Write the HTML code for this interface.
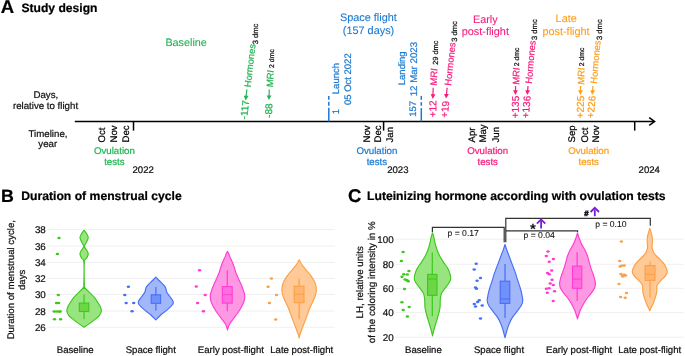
<!DOCTYPE html>
<html><head><meta charset="utf-8"><style>
html,body{margin:0;padding:0;background:#fff;width:685px;height:356px;overflow:hidden}
svg{display:block;will-change:transform}
text{font-family:"Liberation Sans", sans-serif;text-rendering:geometricPrecision}
</style></head><body>
<svg width="685" height="356" viewBox="0 0 685 356">
<rect width="685" height="356" fill="#fff"/>
<text x="0.8" y="13.4" font-size="18.5" fill="#000" text-anchor="start" font-weight="bold" font-style="normal" stroke="#000" stroke-width="0.22" >A</text>
<text x="21.5" y="11.8" font-size="12.1" fill="#000" text-anchor="start" font-weight="bold" font-style="normal" stroke="#000" stroke-width="0.22" >Study design</text>
<text x="186.1" y="45.8" font-size="10.8" fill="#22b552" text-anchor="middle" font-weight="normal" font-style="normal" stroke="#22b552" stroke-width="0.1" >Baseline</text>
<text x="368.4" y="21.4" font-size="10.9" fill="#1c79d0" text-anchor="middle" font-weight="normal" font-style="normal" stroke="#1c79d0" stroke-width="0.1" >Space flight</text>
<text x="368.5" y="34.2" font-size="10.9" fill="#1c79d0" text-anchor="middle" font-weight="normal" font-style="normal" stroke="#1c79d0" stroke-width="0.1" >(157 days)</text>
<text x="485.3" y="22.8" font-size="10.9" fill="#f81b7c" text-anchor="middle" font-weight="normal" font-style="normal" stroke="#f81b7c" stroke-width="0.1" >Early</text>
<text x="485.3" y="35.2" font-size="10.9" fill="#f81b7c" text-anchor="middle" font-weight="normal" font-style="normal" stroke="#f81b7c" stroke-width="0.1" >post-flight</text>
<text x="566.2" y="22.4" font-size="10.9" fill="#fd9e1c" text-anchor="middle" font-weight="normal" font-style="normal" stroke="#fd9e1c" stroke-width="0.1" >Late</text>
<text x="566.0" y="35.0" font-size="10.9" fill="#fd9e1c" text-anchor="middle" font-weight="normal" font-style="normal" stroke="#fd9e1c" stroke-width="0.1" >post-flight</text>
<text x="45.8" y="98.0" font-size="9.7" fill="#111" text-anchor="middle" font-weight="normal" font-style="normal" stroke="#111" stroke-width="0.22" >Days,</text>
<text x="45.5" y="109.2" font-size="9.7" fill="#111" text-anchor="middle" font-weight="normal" font-style="normal" stroke="#111" stroke-width="0.22" >relative to flight</text>
<text x="48.0" y="137.3" font-size="9.7" fill="#111" text-anchor="middle" font-weight="normal" font-style="normal" stroke="#111" stroke-width="0.22" >Timeline,</text>
<text x="47.8" y="147.4" font-size="9.7" fill="#111" text-anchor="middle" font-weight="normal" font-style="normal" stroke="#111" stroke-width="0.22" >year</text>
<line x1="74.8" y1="121.5" x2="654" y2="121.5" stroke="#000" stroke-width="1.6"/>
<polyline points="649.2,117.6 654.6,121.5 649.2,125.4" fill="none" stroke="#000" stroke-width="1.5"/>
<line x1="133.5" y1="121.5" x2="133.5" y2="130.6" stroke="#000" stroke-width="1.5"/>
<line x1="383.6" y1="121.5" x2="383.6" y2="130.6" stroke="#000" stroke-width="1.5"/>
<line x1="634.7" y1="121.5" x2="634.7" y2="130.6" stroke="#000" stroke-width="1.5"/>
<text transform="translate(105.4,142.5) rotate(-90)" font-size="9.6" fill="#000" text-anchor="start" font-weight="normal" font-style="normal" stroke="#000" stroke-width="0.22">Oct</text>
<text transform="translate(116.8,142.5) rotate(-90)" font-size="9.6" fill="#000" text-anchor="start" font-weight="normal" font-style="normal" stroke="#000" stroke-width="0.22">Nov</text>
<text transform="translate(128.9,142.5) rotate(-90)" font-size="9.6" fill="#000" text-anchor="start" font-weight="normal" font-style="normal" stroke="#000" stroke-width="0.22">Dec</text>
<text transform="translate(369.5,142.5) rotate(-90)" font-size="9.6" fill="#000" text-anchor="start" font-weight="normal" font-style="normal" stroke="#000" stroke-width="0.22">Nov</text>
<text transform="translate(381.3,142.5) rotate(-90)" font-size="9.6" fill="#000" text-anchor="start" font-weight="normal" font-style="normal" stroke="#000" stroke-width="0.22">Dec</text>
<text transform="translate(393.0,142.5) rotate(-90)" font-size="9.6" fill="#000" text-anchor="start" font-weight="normal" font-style="normal" stroke="#000" stroke-width="0.22">Jan</text>
<text transform="translate(474.5,142.5) rotate(-90)" font-size="9.6" fill="#000" text-anchor="start" font-weight="normal" font-style="normal" stroke="#000" stroke-width="0.22">Apr</text>
<text transform="translate(486.3,142.5) rotate(-90)" font-size="9.6" fill="#000" text-anchor="start" font-weight="normal" font-style="normal" stroke="#000" stroke-width="0.22">May</text>
<text transform="translate(498.7,142.5) rotate(-90)" font-size="9.6" fill="#000" text-anchor="start" font-weight="normal" font-style="normal" stroke="#000" stroke-width="0.22">Jun</text>
<text transform="translate(574.8,142.5) rotate(-90)" font-size="9.6" fill="#000" text-anchor="start" font-weight="normal" font-style="normal" stroke="#000" stroke-width="0.22">Sep</text>
<text transform="translate(587.9,142.5) rotate(-90)" font-size="9.6" fill="#000" text-anchor="start" font-weight="normal" font-style="normal" stroke="#000" stroke-width="0.22">Oct</text>
<text transform="translate(599.3,142.5) rotate(-90)" font-size="9.6" fill="#000" text-anchor="start" font-weight="normal" font-style="normal" stroke="#000" stroke-width="0.22">Nov</text>
<text x="114.4" y="153.7" font-size="9.7" fill="#22b552" text-anchor="middle" font-weight="normal" font-style="normal" stroke="#22b552" stroke-width="0.22" >Ovulation</text>
<text x="114.4" y="165.0" font-size="9.7" fill="#22b552" text-anchor="middle" font-weight="normal" font-style="normal" stroke="#22b552" stroke-width="0.22" >tests</text>
<text x="376.9" y="153.7" font-size="9.7" fill="#1c79d0" text-anchor="middle" font-weight="normal" font-style="normal" stroke="#1c79d0" stroke-width="0.22" >Ovulation</text>
<text x="376.9" y="165.0" font-size="9.7" fill="#1c79d0" text-anchor="middle" font-weight="normal" font-style="normal" stroke="#1c79d0" stroke-width="0.22" >tests</text>
<text x="487.7" y="153.7" font-size="9.7" fill="#f81b7c" text-anchor="middle" font-weight="normal" font-style="normal" stroke="#f81b7c" stroke-width="0.22" >Ovulation</text>
<text x="487.7" y="165.0" font-size="9.7" fill="#f81b7c" text-anchor="middle" font-weight="normal" font-style="normal" stroke="#f81b7c" stroke-width="0.22" >tests</text>
<text x="588.7" y="153.7" font-size="9.7" fill="#fd9e1c" text-anchor="middle" font-weight="normal" font-style="normal" stroke="#fd9e1c" stroke-width="0.22" >Ovulation</text>
<text x="588.7" y="165.0" font-size="9.7" fill="#fd9e1c" text-anchor="middle" font-weight="normal" font-style="normal" stroke="#fd9e1c" stroke-width="0.22" >tests</text>
<text x="132.5" y="172.8" font-size="9.6" fill="#111" text-anchor="start" font-weight="normal" font-style="normal" stroke="#111" stroke-width="0.22" >2022</text>
<text x="387.2" y="172.5" font-size="9.6" fill="#111" text-anchor="start" font-weight="normal" font-style="normal" stroke="#111" stroke-width="0.22" >2023</text>
<text x="638.6" y="172.5" font-size="9.6" fill="#111" text-anchor="start" font-weight="normal" font-style="normal" stroke="#111" stroke-width="0.22" >2024</text>
<line x1="328.8" y1="107.8" x2="328.8" y2="121.5" stroke="#1c79d0" stroke-width="1.5"/>
<line x1="328.8" y1="95.9" x2="328.8" y2="99.8" stroke="#1c79d0" stroke-width="1.5"/>
<line x1="328.8" y1="101.8" x2="328.8" y2="105.7" stroke="#1c79d0" stroke-width="1.5"/>
<line x1="421.3" y1="108.1" x2="421.3" y2="121.5" stroke="#1c79d0" stroke-width="1.5"/>
<line x1="421.3" y1="95.9" x2="421.3" y2="99.8" stroke="#1c79d0" stroke-width="1.5"/>
<line x1="421.3" y1="102.1" x2="421.3" y2="105.8" stroke="#1c79d0" stroke-width="1.5"/>
<text transform="translate(339.0,114.3) rotate(-90)" font-size="9.5" fill="#1c79d0" text-anchor="start" font-weight="normal" font-style="normal" stroke="#1c79d0" stroke-width="0.22">1</text>
<text transform="translate(338.6,78.6) rotate(-90)" font-size="9.5" fill="#1c79d0" text-anchor="middle" font-weight="normal" font-style="normal" stroke="#1c79d0" stroke-width="0.22">Launch</text>
<text transform="translate(350.8,79.2) rotate(-90)" font-size="9.5" fill="#1c79d0" text-anchor="middle" font-weight="normal" font-style="normal" stroke="#1c79d0" stroke-width="0.22">05 Oct 2022</text>
<text transform="translate(416.4,116.8) rotate(-90)" font-size="9.5" fill="#1c79d0" text-anchor="start" font-weight="normal" font-style="normal" stroke="#1c79d0" stroke-width="0.22">157</text>
<text transform="translate(405.0,68.3) rotate(-90)" font-size="9.5" fill="#1c79d0" text-anchor="middle" font-weight="normal" font-style="normal" stroke="#1c79d0" stroke-width="0.22">Landing</text>
<text transform="translate(417.4,96.3) rotate(-90)" font-size="9.7" fill="#1c79d0" text-anchor="start" font-weight="normal" font-style="normal" stroke="#1c79d0" stroke-width="0.22">12 Mar 2023</text>
<g transform="translate(247.1,119.4) skewX(-6.40) rotate(-90)" stroke-width="0.22"><text x="0" y="0" font-size="10" fill="#22b552" stroke="#22b552">-117</text><path d="M29.9,-3.6 L22.0,-3.6" stroke="#22b552" stroke-width="1.2" fill="none"/><path d="M19.0,-3.6 L23.6,-6.0 L23.6,-1.2000000000000002 Z" fill="#22b552" stroke="none"/><text transform="translate(31.8,0) skewX(-7)" x="0" y="0" font-size="9.40" fill="#22b552" stroke="#22b552">Hormones</text></g>
<text transform="translate(257.7,44.3) rotate(-90)" fill="#111" stroke="#111" stroke-width="0.22" font-size="7.6">3 dmc</text>
<g transform="translate(271.9,117.9) skewX(-2.00) rotate(-90)" stroke-width="0.22"><text x="0" y="0" font-size="10" fill="#22b552" stroke="#22b552">-88</text><path d="M28.5,-3.6 L20.8,-3.6" stroke="#22b552" stroke-width="1.2" fill="none"/><path d="M17.8,-3.6 L22.4,-6.0 L22.4,-1.2000000000000002 Z" fill="#22b552" stroke="none"/><text transform="translate(30.4,0) skewX(-7)" x="0" y="0" font-size="9.40" fill="#22b552" stroke="#22b552">MRI</text></g>
<text transform="translate(274.0,67.9) rotate(-90)" fill="#111" stroke="#111" stroke-width="0.22" font-size="6.9">2 dmc</text>
<g transform="translate(436.0,117.3) skewX(-1.50) rotate(-90)" stroke-width="0.22"><text x="0" y="0" font-size="10" fill="#f81b7c" stroke="#f81b7c">+12</text><path d="M29.5,-3.6 L21.4,-3.6" stroke="#f81b7c" stroke-width="1.2" fill="none"/><path d="M18.4,-3.6 L23.0,-6.0 L23.0,-1.2000000000000002 Z" fill="#f81b7c" stroke="none"/><text transform="translate(31.4,0) skewX(-7)" x="0" y="0" font-size="9.40" fill="#f81b7c" stroke="#f81b7c">MRI</text></g>
<text transform="translate(438.2,64.8) rotate(-90)" fill="#111" stroke="#111" stroke-width="0.22" font-size="7.4">29 dmc</text>
<g transform="translate(447.6,117.8) skewX(-6.00) rotate(-90)" stroke-width="0.22"><text x="0" y="0" font-size="10" fill="#f81b7c" stroke="#f81b7c">+19</text><path d="M30.0,-3.6 L22.2,-3.6" stroke="#f81b7c" stroke-width="1.2" fill="none"/><path d="M19.2,-3.6 L23.799999999999997,-6.0 L23.799999999999997,-1.2000000000000002 Z" fill="#f81b7c" stroke="none"/><text transform="translate(31.8,0) skewX(-7)" x="0" y="0" font-size="9.40" fill="#f81b7c" stroke="#f81b7c">Hormones</text></g>
<text transform="translate(456.7,41.8) rotate(-90)" fill="#111" stroke="#111" stroke-width="0.22" font-size="7.6">3 dmc</text>
<g transform="translate(518.6,118.3) skewX(-1.00) rotate(-90)" stroke-width="0.22"><text x="0" y="0" font-size="10" fill="#f81b7c" stroke="#f81b7c">+135</text><path d="M32.2,-3.6 L26.4,-3.6" stroke="#f81b7c" stroke-width="1.2" fill="none"/><path d="M23.4,-3.6 L28.0,-6.0 L28.0,-1.2000000000000002 Z" fill="#f81b7c" stroke="none"/><text transform="translate(33.2,0) skewX(-7)" x="0" y="0" font-size="9.40" fill="#f81b7c" stroke="#f81b7c">MRI</text></g>
<text transform="translate(519.0,66.3) rotate(-90)" fill="#111" stroke="#111" stroke-width="0.22" font-size="6.9">2 dmc</text>
<g transform="translate(528.8,118.3) skewX(-5.00) rotate(-90)" stroke-width="0.22"><text x="0" y="0" font-size="10" fill="#f81b7c" stroke="#f81b7c">+136</text><path d="M32.2,-3.6 L26.4,-3.6" stroke="#f81b7c" stroke-width="1.2" fill="none"/><path d="M23.4,-3.6 L28.0,-6.0 L28.0,-1.2000000000000002 Z" fill="#f81b7c" stroke="none"/><text transform="translate(34.3,0) skewX(-7)" x="0" y="0" font-size="9.40" fill="#f81b7c" stroke="#f81b7c">Hormones</text></g>
<text transform="translate(536.7,40.0) rotate(-90)" fill="#111" stroke="#111" stroke-width="0.22" font-size="7.6">3 dmc</text>
<g transform="translate(583.6,118.3) skewX(-1.00) rotate(-90)" stroke-width="0.22"><text x="0" y="0" font-size="10" fill="#fd9e1c" stroke="#fd9e1c">+225</text><path d="M32.2,-3.6 L26.4,-3.6" stroke="#fd9e1c" stroke-width="1.2" fill="none"/><path d="M23.4,-3.6 L28.0,-6.0 L28.0,-1.2000000000000002 Z" fill="#fd9e1c" stroke="none"/><text transform="translate(33.2,0) skewX(-7)" x="0" y="0" font-size="9.40" fill="#fd9e1c" stroke="#fd9e1c">MRI</text></g>
<text transform="translate(584.0,66.3) rotate(-90)" fill="#111" stroke="#111" stroke-width="0.22" font-size="6.9">2 dmc</text>
<g transform="translate(593.8,118.3) skewX(-5.00) rotate(-90)" stroke-width="0.22"><text x="0" y="0" font-size="10" fill="#fd9e1c" stroke="#fd9e1c">+226</text><path d="M32.2,-3.6 L26.4,-3.6" stroke="#fd9e1c" stroke-width="1.2" fill="none"/><path d="M23.4,-3.6 L28.0,-6.0 L28.0,-1.2000000000000002 Z" fill="#fd9e1c" stroke="none"/><text transform="translate(34.3,0) skewX(-7)" x="0" y="0" font-size="9.40" fill="#fd9e1c" stroke="#fd9e1c">Hormones</text></g>
<text transform="translate(601.7,40.0) rotate(-90)" fill="#111" stroke="#111" stroke-width="0.22" font-size="7.6">3 dmc</text>
<text x="0.9" y="201.6" font-size="17.8" fill="#000" text-anchor="start" font-weight="bold" font-style="normal" stroke="#000" stroke-width="0.22" >B</text>
<text x="21.2" y="200.2" font-size="12.2" fill="#000" text-anchor="start" font-weight="bold" font-style="normal" stroke="#000" stroke-width="0.22" >Duration of menstrual cycle</text>
<line x1="47.2" y1="327.30" x2="334.7" y2="327.30" stroke="#f0f0f0" stroke-width="1"/>
<text x="45.8" y="330.9" font-size="9.8" fill="#111" text-anchor="end" font-weight="normal" font-style="normal" stroke="#111" stroke-width="0.22" >26</text>
<line x1="47.2" y1="311.10" x2="334.7" y2="311.10" stroke="#f0f0f0" stroke-width="1"/>
<text x="45.8" y="314.7" font-size="9.8" fill="#111" text-anchor="end" font-weight="normal" font-style="normal" stroke="#111" stroke-width="0.22" >28</text>
<line x1="47.2" y1="294.50" x2="334.7" y2="294.50" stroke="#f0f0f0" stroke-width="1"/>
<text x="45.8" y="298.1" font-size="9.8" fill="#111" text-anchor="end" font-weight="normal" font-style="normal" stroke="#111" stroke-width="0.22" >30</text>
<line x1="47.2" y1="278.50" x2="334.7" y2="278.50" stroke="#f0f0f0" stroke-width="1"/>
<text x="45.8" y="282.1" font-size="9.8" fill="#111" text-anchor="end" font-weight="normal" font-style="normal" stroke="#111" stroke-width="0.22" >32</text>
<line x1="47.2" y1="262.40" x2="334.7" y2="262.40" stroke="#f0f0f0" stroke-width="1"/>
<text x="45.8" y="266.0" font-size="9.8" fill="#111" text-anchor="end" font-weight="normal" font-style="normal" stroke="#111" stroke-width="0.22" >34</text>
<line x1="47.2" y1="246.00" x2="334.7" y2="246.00" stroke="#f0f0f0" stroke-width="1"/>
<text x="45.8" y="249.6" font-size="9.8" fill="#111" text-anchor="end" font-weight="normal" font-style="normal" stroke="#111" stroke-width="0.22" >36</text>
<line x1="47.2" y1="229.60" x2="334.7" y2="229.60" stroke="#f0f0f0" stroke-width="1"/>
<text x="45.8" y="233.2" font-size="9.8" fill="#111" text-anchor="end" font-weight="normal" font-style="normal" stroke="#111" stroke-width="0.22" >38</text>
<text transform="translate(13.7,279.7) rotate(-90)" font-size="9.65" fill="#111" text-anchor="middle" font-weight="normal" font-style="normal" stroke="#111" stroke-width="0.22">Duration of menstrual cycle,</text>
<text transform="translate(25.0,279.9) rotate(-90)" font-size="9.5" fill="#111" text-anchor="middle" font-weight="normal" font-style="normal" stroke="#111" stroke-width="0.22">days</text>
<path d="M84.10,230.30 C84.53,230.88 86.02,232.58 86.70,233.80 C87.38,235.02 88.20,236.27 88.20,237.60 C88.20,238.93 87.33,240.35 86.70,241.80 C86.07,243.25 84.40,244.90 84.40,246.30 C84.40,247.70 86.07,248.92 86.70,250.20 C87.33,251.48 88.20,252.70 88.20,254.00 C88.20,255.30 87.35,256.62 86.70,258.00 C86.05,259.38 84.68,257.55 84.30,262.30 C83.92,267.05 84.30,282.28 84.40,286.50 C84.50,290.72 84.63,287.18 84.90,287.60 C85.17,288.02 85.12,288.07 86.00,289.00 C86.88,289.93 88.80,291.80 90.20,293.20 C91.60,294.60 93.23,296.00 94.40,297.40 C95.57,298.80 96.27,300.18 97.20,301.60 C98.13,303.02 99.30,304.37 100.00,305.90 C100.70,307.43 101.52,309.17 101.40,310.80 C101.28,312.43 100.47,314.18 99.30,315.70 C98.13,317.22 96.15,318.50 94.40,319.90 C92.65,321.30 90.52,322.88 88.80,324.10 C87.08,325.32 84.88,326.68 84.10,327.20 L84.10,327.20 C83.32,326.68 81.12,325.32 79.40,324.10 C77.68,322.88 75.55,321.30 73.80,319.90 C72.05,318.50 70.07,317.22 68.90,315.70 C67.73,314.18 66.92,312.43 66.80,310.80 C66.68,309.17 67.50,307.43 68.20,305.90 C68.90,304.37 70.07,303.02 71.00,301.60 C71.93,300.18 72.63,298.80 73.80,297.40 C74.97,296.00 76.60,294.60 78.00,293.20 C79.40,291.80 81.32,289.93 82.20,289.00 C83.08,288.07 83.03,288.02 83.30,287.60 C83.57,287.18 83.70,290.72 83.80,286.50 C83.90,282.28 84.28,267.05 83.90,262.30 C83.52,257.55 82.15,259.38 81.50,258.00 C80.85,256.62 80.00,255.30 80.00,254.00 C80.00,252.70 80.87,251.48 81.50,250.20 C82.13,248.92 83.80,247.70 83.80,246.30 C83.80,244.90 82.13,243.25 81.50,241.80 C80.87,240.35 80.00,238.93 80.00,237.60 C80.00,236.27 80.82,235.02 81.50,233.80 C82.18,232.58 83.67,230.88 84.10,230.30 Z" fill="#98e47f" stroke="#3cc81e" stroke-width="1.15" stroke-linejoin="round"/>
<path d="M155.80,277.20 C156.43,277.83 158.27,279.67 159.60,281.00 C160.93,282.33 162.78,284.03 163.80,285.20 C164.82,286.37 165.20,286.82 165.70,288.00 C166.20,289.18 166.12,290.88 166.80,292.30 C167.48,293.72 168.75,294.98 169.80,296.50 C170.85,298.02 172.60,300.12 173.10,301.40 C173.60,302.68 173.65,302.92 172.80,304.20 C171.95,305.48 169.97,307.35 168.00,309.10 C166.03,310.85 163.03,312.92 161.00,314.70 C158.97,316.48 156.67,318.95 155.80,319.80 L155.80,319.80 C154.93,318.95 152.63,316.48 150.60,314.70 C148.57,312.92 145.57,310.85 143.60,309.10 C141.63,307.35 139.65,305.48 138.80,304.20 C137.95,302.92 138.00,302.68 138.50,301.40 C139.00,300.12 140.75,298.02 141.80,296.50 C142.85,294.98 144.12,293.72 144.80,292.30 C145.48,290.88 145.40,289.18 145.90,288.00 C146.40,286.82 146.78,286.37 147.80,285.20 C148.82,284.03 150.67,282.33 152.00,281.00 C153.33,279.67 155.17,277.83 155.80,277.20 Z" fill="#a2b6fa" stroke="#466ef8" stroke-width="1.15" stroke-linejoin="round"/>
<path d="M227.50,251.40 C227.70,251.75 228.33,252.67 228.70,253.50 C229.07,254.33 229.10,254.98 229.70,256.40 C230.30,257.82 231.52,260.12 232.30,262.00 C233.08,263.88 233.77,265.82 234.40,267.70 C235.03,269.58 235.40,271.43 236.10,273.30 C236.80,275.17 237.77,277.03 238.60,278.90 C239.43,280.77 240.32,282.63 241.10,284.50 C241.88,286.37 242.70,288.25 243.30,290.10 C243.90,291.95 244.57,293.75 244.70,295.60 C244.83,297.45 244.62,299.33 244.10,301.20 C243.58,303.07 242.60,304.92 241.60,306.80 C240.60,308.68 239.38,310.62 238.10,312.50 C236.82,314.38 235.28,316.23 233.90,318.10 C232.52,319.97 230.73,322.22 229.80,323.70 C228.87,325.18 228.68,325.95 228.30,327.00 C227.92,328.05 227.63,329.50 227.50,330.00 L227.50,330.00 C227.37,329.50 227.08,328.05 226.70,327.00 C226.32,325.95 226.13,325.18 225.20,323.70 C224.27,322.22 222.48,319.97 221.10,318.10 C219.72,316.23 218.18,314.38 216.90,312.50 C215.62,310.62 214.40,308.68 213.40,306.80 C212.40,304.92 211.42,303.07 210.90,301.20 C210.38,299.33 210.17,297.45 210.30,295.60 C210.43,293.75 211.10,291.95 211.70,290.10 C212.30,288.25 213.12,286.37 213.90,284.50 C214.68,282.63 215.57,280.77 216.40,278.90 C217.23,277.03 218.20,275.17 218.90,273.30 C219.60,271.43 219.97,269.58 220.60,267.70 C221.23,265.82 221.92,263.88 222.70,262.00 C223.48,260.12 224.70,257.82 225.30,256.40 C225.90,254.98 225.93,254.33 226.30,253.50 C226.67,252.67 227.30,251.75 227.50,251.40 Z" fill="#ff98e2" stroke="#ff3cd2" stroke-width="1.15" stroke-linejoin="round"/>
<path d="M299.10,259.90 C299.25,260.12 299.73,260.68 300.00,261.20 C300.27,261.72 300.07,262.00 300.70,263.00 C301.33,264.00 302.70,265.80 303.80,267.20 C304.90,268.60 306.13,270.00 307.30,271.40 C308.47,272.80 309.63,273.95 310.80,275.60 C311.97,277.25 313.42,279.42 314.30,281.30 C315.18,283.18 315.80,285.03 316.10,286.90 C316.40,288.77 316.38,290.63 316.10,292.50 C315.82,294.37 314.93,296.58 314.40,298.10 C313.87,299.62 313.62,300.08 312.90,301.60 C312.18,303.12 310.92,305.33 310.10,307.20 C309.28,309.07 308.70,310.92 308.00,312.80 C307.30,314.68 306.60,316.62 305.90,318.50 C305.20,320.38 304.50,322.23 303.80,324.10 C303.10,325.97 302.38,327.83 301.70,329.70 C301.02,331.57 300.13,333.90 299.70,335.30 C299.27,336.70 299.20,337.63 299.10,338.10 L299.10,338.10 C299.00,337.63 298.93,336.70 298.50,335.30 C298.07,333.90 297.18,331.57 296.50,329.70 C295.82,327.83 295.10,325.97 294.40,324.10 C293.70,322.23 293.00,320.38 292.30,318.50 C291.60,316.62 290.90,314.68 290.20,312.80 C289.50,310.92 288.92,309.07 288.10,307.20 C287.28,305.33 286.02,303.12 285.30,301.60 C284.58,300.08 284.33,299.62 283.80,298.10 C283.27,296.58 282.38,294.37 282.10,292.50 C281.82,290.63 281.80,288.77 282.10,286.90 C282.40,285.03 283.02,283.18 283.90,281.30 C284.78,279.42 286.23,277.25 287.40,275.60 C288.57,273.95 289.73,272.80 290.90,271.40 C292.07,270.00 293.30,268.60 294.40,267.20 C295.50,265.80 296.87,264.00 297.50,263.00 C298.13,262.00 297.93,261.72 298.20,261.20 C298.47,260.68 298.95,260.12 299.10,259.90 Z" fill="#ffca98" stroke="#faa046" stroke-width="1.15" stroke-linejoin="round"/>
<line x1="84.05" y1="294.6" x2="84.05" y2="319.2" stroke="#3cc81e" stroke-width="1.2"/>
<rect x="79.3" y="303.1" width="9.5" height="8.399999999999977" fill="#6cd646" stroke="#3cc81e" stroke-width="1.1"/>
<line x1="155.89999999999998" y1="286.9" x2="155.89999999999998" y2="310.8" stroke="#466ef8" stroke-width="1.2"/>
<rect x="151.2" y="294.8" width="9.400000000000006" height="8.5" fill="#7090fa" stroke="#466ef8" stroke-width="1.1"/>
<line x1="227.25" y1="270.2" x2="227.25" y2="311.2" stroke="#ff3cd2" stroke-width="1.2"/>
<rect x="222.3" y="286.6" width="9.899999999999977" height="16.5" fill="#ff6ede" stroke="#ff3cd2" stroke-width="1.1"/>
<line x1="222.3" y1="294.7" x2="232.2" y2="294.7" stroke="#ff3cd2" stroke-width="1.0"/>
<line x1="299.1" y1="278.5" x2="299.1" y2="319.2" stroke="#faa046" stroke-width="1.2"/>
<rect x="294.2" y="286.2" width="9.800000000000011" height="16.5" fill="#ffb470" stroke="#faa046" stroke-width="1.1"/>
<line x1="294.2" y1="294.2" x2="304.0" y2="294.2" stroke="#faa046" stroke-width="1.0"/>
<ellipse cx="59" cy="237.9" rx="1.7" ry="1.25" fill="#3cc81e"/>
<ellipse cx="57.4" cy="253.9" rx="1.7" ry="1.25" fill="#3cc81e"/>
<ellipse cx="58.3" cy="294.9" rx="1.7" ry="1.25" fill="#3cc81e"/>
<ellipse cx="56.5" cy="303" rx="1.7" ry="1.25" fill="#3cc81e"/>
<ellipse cx="58.6" cy="303" rx="1.7" ry="1.25" fill="#3cc81e"/>
<ellipse cx="54.2" cy="311.4" rx="1.7" ry="1.25" fill="#3cc81e"/>
<ellipse cx="56.7" cy="311.4" rx="1.7" ry="1.25" fill="#3cc81e"/>
<ellipse cx="59.2" cy="311.4" rx="1.7" ry="1.25" fill="#3cc81e"/>
<ellipse cx="60.2" cy="311.4" rx="1.7" ry="1.25" fill="#3cc81e"/>
<ellipse cx="54.5" cy="319.3" rx="1.7" ry="1.25" fill="#3cc81e"/>
<ellipse cx="60.6" cy="319.3" rx="1.7" ry="1.25" fill="#3cc81e"/>
<ellipse cx="128.4" cy="286.7" rx="1.7" ry="1.25" fill="#466ef8"/>
<ellipse cx="124.8" cy="295" rx="1.7" ry="1.25" fill="#466ef8"/>
<ellipse cx="126.2" cy="303" rx="1.7" ry="1.25" fill="#466ef8"/>
<ellipse cx="133.7" cy="303" rx="1.7" ry="1.25" fill="#466ef8"/>
<ellipse cx="132.1" cy="311.3" rx="1.7" ry="1.25" fill="#466ef8"/>
<ellipse cx="199.6" cy="270.2" rx="1.7" ry="1.25" fill="#ff3cd2"/>
<ellipse cx="196.3" cy="286.6" rx="1.7" ry="1.25" fill="#ff3cd2"/>
<ellipse cx="205.2" cy="295" rx="1.7" ry="1.25" fill="#ff3cd2"/>
<ellipse cx="197.6" cy="303" rx="1.7" ry="1.25" fill="#ff3cd2"/>
<ellipse cx="203.4" cy="311.2" rx="1.7" ry="1.25" fill="#ff3cd2"/>
<ellipse cx="271.4" cy="278.6" rx="1.7" ry="1.25" fill="#faa046"/>
<ellipse cx="268.1" cy="286.7" rx="1.7" ry="1.25" fill="#faa046"/>
<ellipse cx="276.5" cy="295" rx="1.7" ry="1.25" fill="#faa046"/>
<ellipse cx="269.4" cy="303" rx="1.7" ry="1.25" fill="#faa046"/>
<ellipse cx="275.7" cy="319.4" rx="1.7" ry="1.25" fill="#faa046"/>
<text x="75.2" y="353.1" font-size="9.6" fill="#111" text-anchor="middle" font-weight="normal" font-style="normal" stroke="#111" stroke-width="0.22" >Baseline</text>
<text x="150.8" y="353.1" font-size="9.6" fill="#111" text-anchor="middle" font-weight="normal" font-style="normal" stroke="#111" stroke-width="0.22" >Space flight</text>
<text x="230.9" y="353.1" font-size="9.6" fill="#111" text-anchor="middle" font-weight="normal" font-style="normal" stroke="#111" stroke-width="0.22" >Early post-flight</text>
<text x="301.7" y="353.1" font-size="9.6" fill="#111" text-anchor="middle" font-weight="normal" font-style="normal" stroke="#111" stroke-width="0.22" >Late post-flight</text>
<text x="348.0" y="202.0" font-size="18.5" fill="#000" text-anchor="start" font-weight="bold" font-style="normal" stroke="#000" stroke-width="0.22" >C</text>
<text x="367.0" y="200.3" font-size="12.2" fill="#000" text-anchor="start" font-weight="bold" font-style="normal" stroke="#000" stroke-width="0.22" >Luteinizing hormone according with ovulation tests</text>
<line x1="395" y1="337.20" x2="684" y2="337.20" stroke="#f0f0f0" stroke-width="1"/>
<text x="393.6" y="340.8" font-size="9.8" fill="#111" text-anchor="end" font-weight="normal" font-style="normal" stroke="#111" stroke-width="0.22" >20</text>
<line x1="395" y1="312.60" x2="684" y2="312.60" stroke="#f0f0f0" stroke-width="1"/>
<text x="393.6" y="316.2" font-size="9.8" fill="#111" text-anchor="end" font-weight="normal" font-style="normal" stroke="#111" stroke-width="0.22" >40</text>
<line x1="395" y1="288.30" x2="684" y2="288.30" stroke="#f0f0f0" stroke-width="1"/>
<text x="393.6" y="291.9" font-size="9.8" fill="#111" text-anchor="end" font-weight="normal" font-style="normal" stroke="#111" stroke-width="0.22" >60</text>
<line x1="395" y1="264.30" x2="684" y2="264.30" stroke="#f0f0f0" stroke-width="1"/>
<text x="393.6" y="267.9" font-size="9.8" fill="#111" text-anchor="end" font-weight="normal" font-style="normal" stroke="#111" stroke-width="0.22" >80</text>
<line x1="395" y1="239.20" x2="684" y2="239.20" stroke="#f0f0f0" stroke-width="1"/>
<text x="393.6" y="242.8" font-size="9.8" fill="#111" text-anchor="end" font-weight="normal" font-style="normal" stroke="#111" stroke-width="0.22" >100</text>
<text transform="translate(363.3,282.3) rotate(-90)" font-size="9.7" fill="#111" text-anchor="middle" font-weight="normal" font-style="normal" stroke="#111" stroke-width="0.22">LH, relative units</text>
<text transform="translate(374.7,282.3) rotate(-90)" font-size="9.8" fill="#111" text-anchor="middle" font-weight="normal" font-style="normal" stroke="#111" stroke-width="0.22">of the coloring intensity in %</text>
<path d="M432.50,232.70 C432.73,233.48 433.45,235.57 433.90,237.40 C434.35,239.23 434.67,241.60 435.20,243.70 C435.73,245.80 436.32,247.90 437.10,250.00 C437.88,252.10 438.78,254.20 439.90,256.30 C441.02,258.40 442.43,260.50 443.80,262.60 C445.17,264.70 447.02,266.80 448.10,268.90 C449.18,271.00 449.90,273.37 450.30,275.20 C450.70,277.03 450.83,278.43 450.50,279.90 C450.17,281.37 449.27,282.53 448.30,284.00 C447.33,285.47 445.83,287.13 444.70,288.70 C443.57,290.27 442.23,291.57 441.50,293.40 C440.77,295.23 440.55,297.33 440.30,299.70 C440.05,302.07 440.35,304.97 440.00,307.60 C439.65,310.23 438.88,312.88 438.20,315.50 C437.52,318.12 436.67,320.68 435.90,323.30 C435.13,325.92 434.17,329.10 433.60,331.20 C433.03,333.30 432.68,335.12 432.50,335.90 L432.50,335.90 C432.32,335.12 431.97,333.30 431.40,331.20 C430.83,329.10 429.87,325.92 429.10,323.30 C428.33,320.68 427.48,318.12 426.80,315.50 C426.12,312.88 425.35,310.23 425.00,307.60 C424.65,304.97 424.95,302.07 424.70,299.70 C424.45,297.33 424.23,295.23 423.50,293.40 C422.77,291.57 421.43,290.27 420.30,288.70 C419.17,287.13 417.67,285.47 416.70,284.00 C415.73,282.53 414.83,281.37 414.50,279.90 C414.17,278.43 414.30,277.03 414.70,275.20 C415.10,273.37 415.82,271.00 416.90,268.90 C417.98,266.80 419.83,264.70 421.20,262.60 C422.57,260.50 423.98,258.40 425.10,256.30 C426.22,254.20 427.12,252.10 427.90,250.00 C428.68,247.90 429.27,245.80 429.80,243.70 C430.33,241.60 430.65,239.23 431.10,237.40 C431.55,235.57 432.27,233.48 432.50,232.70 Z" fill="#98e47f" stroke="#3cc81e" stroke-width="1.15" stroke-linejoin="round"/>
<path d="M505.00,244.40 C505.27,245.23 505.93,247.52 506.60,249.40 C507.27,251.28 508.22,253.60 509.00,255.70 C509.78,257.80 510.52,259.90 511.30,262.00 C512.08,264.10 512.92,266.20 513.70,268.30 C514.48,270.40 515.30,272.50 516.00,274.60 C516.70,276.70 517.23,278.80 517.90,280.90 C518.57,283.00 519.37,285.10 520.00,287.20 C520.63,289.30 521.23,291.27 521.70,293.50 C522.17,295.73 522.85,298.63 522.80,300.60 C522.75,302.57 522.40,303.47 521.40,305.30 C520.40,307.13 518.35,309.50 516.80,311.60 C515.25,313.70 513.40,315.80 512.10,317.90 C510.80,320.00 509.87,322.10 509.00,324.20 C508.13,326.30 507.57,328.27 506.90,330.50 C506.23,332.73 505.32,336.42 505.00,337.60 L505.00,337.60 C504.68,336.42 503.77,332.73 503.10,330.50 C502.43,328.27 501.87,326.30 501.00,324.20 C500.13,322.10 499.20,320.00 497.90,317.90 C496.60,315.80 494.75,313.70 493.20,311.60 C491.65,309.50 489.60,307.13 488.60,305.30 C487.60,303.47 487.25,302.57 487.20,300.60 C487.15,298.63 487.83,295.73 488.30,293.50 C488.77,291.27 489.37,289.30 490.00,287.20 C490.63,285.10 491.43,283.00 492.10,280.90 C492.77,278.80 493.30,276.70 494.00,274.60 C494.70,272.50 495.52,270.40 496.30,268.30 C497.08,266.20 497.92,264.10 498.70,262.00 C499.48,259.90 500.22,257.80 501.00,255.70 C501.78,253.60 502.73,251.28 503.40,249.40 C504.07,247.52 504.73,245.23 505.00,244.40 Z" fill="#a2b6fa" stroke="#466ef8" stroke-width="1.15" stroke-linejoin="round"/>
<path d="M577.50,233.00 C577.73,233.73 578.25,235.62 578.90,237.40 C579.55,239.18 580.40,241.60 581.40,243.70 C582.40,245.80 583.87,247.90 584.90,250.00 C585.93,252.10 586.87,254.20 587.60,256.30 C588.33,258.40 588.70,260.50 589.30,262.60 C589.90,264.70 590.50,266.80 591.20,268.90 C591.90,271.00 592.82,272.97 593.50,275.20 C594.18,277.43 595.07,280.33 595.30,282.30 C595.53,284.27 595.38,285.43 594.90,287.00 C594.42,288.57 593.67,289.87 592.40,291.70 C591.13,293.53 588.82,295.90 587.30,298.00 C585.78,300.10 584.48,302.20 583.30,304.30 C582.12,306.40 580.98,308.77 580.20,310.60 C579.42,312.43 579.05,313.93 578.60,315.30 C578.15,316.67 577.68,318.22 577.50,318.80 L577.50,318.80 C577.32,318.22 576.85,316.67 576.40,315.30 C575.95,313.93 575.58,312.43 574.80,310.60 C574.02,308.77 572.88,306.40 571.70,304.30 C570.52,302.20 569.22,300.10 567.70,298.00 C566.18,295.90 563.87,293.53 562.60,291.70 C561.33,289.87 560.58,288.57 560.10,287.00 C559.62,285.43 559.47,284.27 559.70,282.30 C559.93,280.33 560.82,277.43 561.50,275.20 C562.18,272.97 563.10,271.00 563.80,268.90 C564.50,266.80 565.10,264.70 565.70,262.60 C566.30,260.50 566.67,258.40 567.40,256.30 C568.13,254.20 569.07,252.10 570.10,250.00 C571.13,247.90 572.60,245.80 573.60,243.70 C574.60,241.60 575.45,239.18 576.10,237.40 C576.75,235.62 577.27,233.73 577.50,233.00 Z" fill="#ff98e2" stroke="#ff3cd2" stroke-width="1.15" stroke-linejoin="round"/>
<path d="M649.80,228.40 C649.98,228.98 650.52,230.53 650.90,231.90 C651.28,233.27 651.85,235.03 652.10,236.60 C652.35,238.17 652.40,239.47 652.40,241.30 C652.40,243.13 651.90,245.77 652.10,247.60 C652.30,249.43 652.95,250.98 653.60,252.30 C654.25,253.62 654.82,254.18 656.00,255.50 C657.18,256.82 659.25,258.63 660.70,260.20 C662.15,261.77 663.60,263.07 664.70,264.90 C665.80,266.73 667.18,269.37 667.30,271.20 C667.42,273.03 666.48,274.33 665.40,275.90 C664.32,277.47 662.18,279.03 660.80,280.60 C659.42,282.17 657.77,283.47 657.10,285.30 C656.43,287.13 657.12,289.50 656.80,291.60 C656.48,293.70 655.85,295.80 655.20,297.90 C654.55,300.00 653.67,302.37 652.90,304.20 C652.13,306.03 651.12,307.80 650.60,308.90 C650.08,310.00 649.93,310.48 649.80,310.80 L649.80,310.80 C649.67,310.48 649.52,310.00 649.00,308.90 C648.48,307.80 647.47,306.03 646.70,304.20 C645.93,302.37 645.05,300.00 644.40,297.90 C643.75,295.80 643.12,293.70 642.80,291.60 C642.48,289.50 643.17,287.13 642.50,285.30 C641.83,283.47 640.18,282.17 638.80,280.60 C637.42,279.03 635.28,277.47 634.20,275.90 C633.12,274.33 632.18,273.03 632.30,271.20 C632.42,269.37 633.80,266.73 634.90,264.90 C636.00,263.07 637.45,261.77 638.90,260.20 C640.35,258.63 642.42,256.82 643.60,255.50 C644.78,254.18 645.35,253.62 646.00,252.30 C646.65,250.98 647.30,249.43 647.50,247.60 C647.70,245.77 647.20,243.13 647.20,241.30 C647.20,239.47 647.25,238.17 647.50,236.60 C647.75,235.03 648.32,233.27 648.70,231.90 C649.08,230.53 649.62,228.98 649.80,228.40 Z" fill="#ffca98" stroke="#faa046" stroke-width="1.15" stroke-linejoin="round"/>
<line x1="432.3" y1="252.4" x2="432.3" y2="316.3" stroke="#3cc81e" stroke-width="1.2"/>
<rect x="427.6" y="274.4" width="9.399999999999977" height="20.900000000000034" fill="#6cd646" stroke="#3cc81e" stroke-width="1.1"/>
<line x1="427.6" y1="279.0" x2="437.0" y2="279.0" stroke="#3cc81e" stroke-width="1.0"/>
<line x1="505.0" y1="263.9" x2="505.0" y2="317.9" stroke="#466ef8" stroke-width="1.2"/>
<rect x="500.2" y="281.2" width="9.600000000000023" height="22.19999999999999" fill="#7090fa" stroke="#466ef8" stroke-width="1.1"/>
<line x1="500.2" y1="299.0" x2="509.8" y2="299.0" stroke="#466ef8" stroke-width="1.0"/>
<line x1="577.15" y1="251.9" x2="577.15" y2="300.9" stroke="#ff3cd2" stroke-width="1.2"/>
<rect x="572.5" y="266.1" width="9.299999999999955" height="22.19999999999999" fill="#ff6ede" stroke="#ff3cd2" stroke-width="1.1"/>
<line x1="572.5" y1="279.1" x2="581.8" y2="279.1" stroke="#ff3cd2" stroke-width="1.0"/>
<line x1="650.05" y1="261.4" x2="650.05" y2="297.6" stroke="#faa046" stroke-width="1.2"/>
<rect x="645.1" y="265.7" width="9.899999999999977" height="14.600000000000023" fill="#ffb470" stroke="#faa046" stroke-width="1.1"/>
<line x1="645.1" y1="274.3" x2="655.0" y2="274.3" stroke="#faa046" stroke-width="1.0"/>
<ellipse cx="403.1" cy="252" rx="1.7" ry="1.25" fill="#3cc81e"/>
<ellipse cx="401.4" cy="260.9" rx="1.7" ry="1.25" fill="#3cc81e"/>
<ellipse cx="408.9" cy="271" rx="1.7" ry="1.25" fill="#3cc81e"/>
<ellipse cx="403.8" cy="274.2" rx="1.7" ry="1.25" fill="#3cc81e"/>
<ellipse cx="407.3" cy="274.6" rx="1.7" ry="1.25" fill="#3cc81e"/>
<ellipse cx="402" cy="276.7" rx="1.7" ry="1.25" fill="#3cc81e"/>
<ellipse cx="405.1" cy="279.6" rx="1.7" ry="1.25" fill="#3cc81e"/>
<ellipse cx="407" cy="280.3" rx="1.7" ry="1.25" fill="#3cc81e"/>
<ellipse cx="408.3" cy="281.3" rx="1.7" ry="1.25" fill="#3cc81e"/>
<ellipse cx="404.5" cy="288.9" rx="1.7" ry="1.25" fill="#3cc81e"/>
<ellipse cx="401.9" cy="302.3" rx="1.7" ry="1.25" fill="#3cc81e"/>
<ellipse cx="409.2" cy="307" rx="1.7" ry="1.25" fill="#3cc81e"/>
<ellipse cx="403.2" cy="310.1" rx="1.7" ry="1.25" fill="#3cc81e"/>
<ellipse cx="407.4" cy="316.5" rx="1.7" ry="1.25" fill="#3cc81e"/>
<ellipse cx="476.2" cy="263.7" rx="1.7" ry="1.25" fill="#466ef8"/>
<ellipse cx="474.2" cy="269.6" rx="1.7" ry="1.25" fill="#466ef8"/>
<ellipse cx="480.5" cy="278" rx="1.7" ry="1.25" fill="#466ef8"/>
<ellipse cx="477.1" cy="280.8" rx="1.7" ry="1.25" fill="#466ef8"/>
<ellipse cx="475.5" cy="287.5" rx="1.7" ry="1.25" fill="#466ef8"/>
<ellipse cx="476.5" cy="288.7" rx="1.7" ry="1.25" fill="#466ef8"/>
<ellipse cx="479.3" cy="300.2" rx="1.7" ry="1.25" fill="#466ef8"/>
<ellipse cx="477.6" cy="301.9" rx="1.7" ry="1.25" fill="#466ef8"/>
<ellipse cx="474.3" cy="303.9" rx="1.7" ry="1.25" fill="#466ef8"/>
<ellipse cx="475.5" cy="306.6" rx="1.7" ry="1.25" fill="#466ef8"/>
<ellipse cx="482.2" cy="305.6" rx="1.7" ry="1.25" fill="#466ef8"/>
<ellipse cx="480.5" cy="318.4" rx="1.7" ry="1.25" fill="#466ef8"/>
<ellipse cx="548" cy="251.6" rx="1.7" ry="1.25" fill="#ff3cd2"/>
<ellipse cx="546.3" cy="256.1" rx="1.7" ry="1.25" fill="#ff3cd2"/>
<ellipse cx="553.4" cy="259" rx="1.7" ry="1.25" fill="#ff3cd2"/>
<ellipse cx="549.2" cy="261.7" rx="1.7" ry="1.25" fill="#ff3cd2"/>
<ellipse cx="551.7" cy="270.5" rx="1.7" ry="1.25" fill="#ff3cd2"/>
<ellipse cx="547.5" cy="273" rx="1.7" ry="1.25" fill="#ff3cd2"/>
<ellipse cx="549.2" cy="274.2" rx="1.7" ry="1.25" fill="#ff3cd2"/>
<ellipse cx="552.1" cy="279.7" rx="1.7" ry="1.25" fill="#ff3cd2"/>
<ellipse cx="550.2" cy="283.5" rx="1.7" ry="1.25" fill="#ff3cd2"/>
<ellipse cx="553.3" cy="285" rx="1.7" ry="1.25" fill="#ff3cd2"/>
<ellipse cx="546.4" cy="288.8" rx="1.7" ry="1.25" fill="#ff3cd2"/>
<ellipse cx="549.1" cy="288.2" rx="1.7" ry="1.25" fill="#ff3cd2"/>
<ellipse cx="554.6" cy="291.3" rx="1.7" ry="1.25" fill="#ff3cd2"/>
<ellipse cx="547.3" cy="292.8" rx="1.7" ry="1.25" fill="#ff3cd2"/>
<ellipse cx="553.2" cy="301" rx="1.7" ry="1.25" fill="#ff3cd2"/>
<ellipse cx="621.4" cy="241.5" rx="1.7" ry="1.25" fill="#faa046"/>
<ellipse cx="619.7" cy="260.9" rx="1.7" ry="1.25" fill="#faa046"/>
<ellipse cx="624.3" cy="265.5" rx="1.7" ry="1.25" fill="#faa046"/>
<ellipse cx="621.7" cy="265.8" rx="1.7" ry="1.25" fill="#faa046"/>
<ellipse cx="620.1" cy="266.6" rx="1.7" ry="1.25" fill="#faa046"/>
<ellipse cx="620.9" cy="273.9" rx="1.7" ry="1.25" fill="#faa046"/>
<ellipse cx="624.3" cy="274.7" rx="1.7" ry="1.25" fill="#faa046"/>
<ellipse cx="622.6" cy="275.6" rx="1.7" ry="1.25" fill="#faa046"/>
<ellipse cx="622.8" cy="276.5" rx="1.7" ry="1.25" fill="#faa046"/>
<ellipse cx="625.5" cy="275.5" rx="1.7" ry="1.25" fill="#faa046"/>
<ellipse cx="619.0" cy="283.9" rx="1.7" ry="1.25" fill="#faa046"/>
<ellipse cx="626.5" cy="292.9" rx="1.7" ry="1.25" fill="#faa046"/>
<ellipse cx="620.6" cy="296.9" rx="1.7" ry="1.25" fill="#faa046"/>
<ellipse cx="625.2" cy="297.8" rx="1.7" ry="1.25" fill="#faa046"/>
<text x="423.4" y="353.1" font-size="9.6" fill="#111" text-anchor="middle" font-weight="normal" font-style="normal" stroke="#111" stroke-width="0.22" >Baseline</text>
<text x="499.0" y="353.1" font-size="9.6" fill="#111" text-anchor="middle" font-weight="normal" font-style="normal" stroke="#111" stroke-width="0.22" >Space flight</text>
<text x="579.1" y="353.1" font-size="9.6" fill="#111" text-anchor="middle" font-weight="normal" font-style="normal" stroke="#111" stroke-width="0.22" >Early post-flight</text>
<text x="649.7" y="353.1" font-size="9.6" fill="#111" text-anchor="middle" font-weight="normal" font-style="normal" stroke="#111" stroke-width="0.22" >Late post-flight</text>
<polyline points="432.4,232 432.4,227.3 504.2,227.3 504.2,242.3" fill="none" stroke="#333" stroke-width="1.2"/>
<polyline points="505.8,242.3 505.8,218.4 650.3,218.4 650.3,225.7" fill="none" stroke="#333" stroke-width="1.2"/>
<polyline points="505.8,230.8 577.6,230.8 577.6,232.3" fill="none" stroke="#333" stroke-width="1.2"/>
<text x="463.2" y="236.0" font-size="8.6" fill="#111" text-anchor="middle" font-weight="normal" font-style="normal" stroke="#111" stroke-width="0.08" >p = 0.17</text>
<text x="539.2" y="238.2" font-size="8.6" fill="#111" text-anchor="middle" font-weight="normal" font-style="normal" stroke="#111" stroke-width="0.08" >p = 0.04</text>
<text x="610.9" y="226.8" font-size="8.6" fill="#111" text-anchor="middle" font-weight="normal" font-style="normal" stroke="#111" stroke-width="0.08" >p = 0.10</text>
<text x="532.9" y="234.3" font-size="15" fill="#111" text-anchor="middle" font-weight="bold" font-style="normal" >*</text>
<text x="586.5" y="215.6" font-size="7.8" fill="#111" text-anchor="middle" font-weight="bold" font-style="normal" stroke="#111" stroke-width="0.55" >#</text>
<line x1="541.1" y1="221.0" x2="541.1" y2="228.5" stroke="#7a1fd6" stroke-width="1.8"/>
<polyline points="536.9,223.6 541.1,219.4 545.3000000000001,223.6" fill="none" stroke="#7a1fd6" stroke-width="1.8"/>
<line x1="594.8" y1="209.4" x2="594.8" y2="216.2" stroke="#7a1fd6" stroke-width="1.8"/>
<polyline points="590.5999999999999,212.0 594.8,207.8 599.0,212.0" fill="none" stroke="#7a1fd6" stroke-width="1.8"/>
</svg>
</body></html>
